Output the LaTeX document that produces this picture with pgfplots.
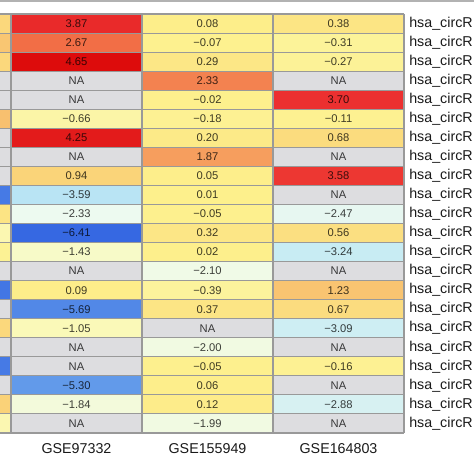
\documentclass[border=0pt]{standalone}
\usepackage{pgfplots}
\pgfplotsset{compat=1.18}
\usepackage{fontspec}
\setmainfont{Liberation Sans}

% Heatmap values: rows 0..-21 top to bottom, columns 0..3 (column 0 only partly shown).
% Missing values (NA) carry meta 5.5, which the colormap paints grey.
\pgfplotstableread{
x y z
0 0 0.8
1 0 3.87
2 0 0.08
3 0 0.38
0 -1 1.2
1 -1 2.67
2 -1 -0.07
3 -1 -0.31
0 -2 0.8
1 -2 4.65
2 -2 0.29
3 -2 -0.27
0 -3 5.5
1 -3 5.5
2 -3 2.33
3 -3 5.5
0 -4 5.5
1 -4 5.5
2 -4 -0.02
3 -4 3.70
0 -5 1.3
1 -5 -0.66
2 -5 -0.18
3 -5 -0.11
0 -6 5.5
1 -6 4.25
2 -6 0.20
3 -6 0.68
0 -7 5.5
1 -7 5.5
2 -7 1.87
3 -7 5.5
0 -8 5.5
1 -8 0.94
2 -8 0.05
3 -8 3.58
0 -9 -6.0
1 -9 -3.59
2 -9 0.01
3 -9 5.5
0 -10 0.4
1 -10 -2.33
2 -10 -0.05
3 -10 -2.47
0 -11 -0.9
1 -11 -6.41
2 -11 0.32
3 -11 0.56
0 -12 -0.2
1 -12 -1.43
2 -12 0.02
3 -12 -3.24
0 -13 5.5
1 -13 5.5
2 -13 -2.10
3 -13 5.5
0 -14 -6.1
1 -14 0.09
2 -14 -0.39
3 -14 1.23
0 -15 5.5
1 -15 -5.69
2 -15 0.37
3 -15 0.67
0 -16 0.8
1 -16 -1.05
2 -16 5.5
3 -16 -3.09
0 -17 5.5
1 -17 5.5
2 -17 -2.00
3 -17 5.5
0 -18 -6.0
1 -18 5.5
2 -18 -0.05
3 -18 -0.16
0 -19 5.5
1 -19 -5.30
2 -19 0.06
3 -19 5.5
0 -20 1.0
1 -20 -1.84
2 -20 0.12
3 -20 -2.88
0 -21 -0.9
1 -21 5.5
2 -21 -1.99
3 -21 5.5
}\heatdata

% Printed cell values for the three labelled columns
\pgfplotstableread{
x y lab
1 0 3.87
2 0 0.08
3 0 0.38
1 -1 2.67
2 -1 −0.07
3 -1 −0.31
1 -2 4.65
2 -2 0.29
3 -2 −0.27
1 -3 NA
2 -3 2.33
3 -3 NA
1 -4 NA
2 -4 −0.02
3 -4 3.70
1 -5 −0.66
2 -5 −0.18
3 -5 −0.11
1 -6 4.25
2 -6 0.20
3 -6 0.68
1 -7 NA
2 -7 1.87
3 -7 NA
1 -8 0.94
2 -8 0.05
3 -8 3.58
1 -9 −3.59
2 -9 0.01
3 -9 NA
1 -10 −2.33
2 -10 −0.05
3 -10 −2.47
1 -11 −6.41
2 -11 0.32
3 -11 0.56
1 -12 −1.43
2 -12 0.02
3 -12 −3.24
1 -13 NA
2 -13 −2.10
3 -13 NA
1 -14 0.09
2 -14 −0.39
3 -14 1.23
1 -15 −5.69
2 -15 0.37
3 -15 0.67
1 -16 −1.05
2 -16 NA
3 -16 −3.09
1 -17 NA
2 -17 −2.00
3 -17 NA
1 -18 NA
2 -18 −0.05
3 -18 −0.16
1 -19 −5.30
2 -19 0.06
3 -19 NA
1 -20 −1.84
2 -20 0.12
3 -20 −2.88
1 -21 NA
2 -21 −1.99
3 -21 NA
}\celllabels

\begin{document}
\begin{tikzpicture}
\useasboundingbox (0pt,0pt) rectangle (355.5pt,355.5pt);
\clip (0pt,0pt) rectangle (355.5pt,355.5pt);
\fill[black!30] (0pt,353.8pt) rectangle (355.5pt,355.5pt);
\begin{axis}[
  at={(0pt,30.75pt)}, anchor=south west,
  scale only axis, width=303pt, height=314.25pt,
  xmin=0.416, xmax=3.5, ymin=-21.5, ymax=0.5,
  enlargelimits=false,
  axis line style={draw=none},
  major tick length=0pt, minor tick length=0pt,
  xtick={1,2,3}, xticklabels={GSE97332,GSE155949,GSE164803},
  ytick={-21,...,0}, yticklabel={hsa\_circR}, yticklabel pos=right,
  minor xtick={0.5,1.5,2.5,3.5},
  minor ytick={-21.5,-20.5,...,0.5},
  xminorgrids=true, yminorgrids=true,
  major grid style={draw=none},
  minor grid style={black!40, line width=0.8pt},
  axis on top,
  colormap={heat}{
    rgb255(0cm)=(50,100,225)
    rgb255(2cm)=(130,190,240)
    rgb255(3cm)=(190,232,244)
    rgb255(4.2cm)=(238,250,240)
    rgb255(5.3cm)=(250,250,190)
    rgb255(6.5cm)=(253,240,140)
    rgb255(7.5cm)=(250,210,120)
    rgb255(8.5cm)=(245,150,90)
    rgb255(9.5cm)=(240,90,60)
    rgb255(10.2cm)=(236,48,48)
    rgb255(11.2cm)=(220,10,10)
    rgb255(11.3cm)=(221,221,224)
    rgb255(12.5cm)=(221,221,224)
  },
  point meta min=-6.5, point meta max=6,
  tick label style={font=\fontsize{10.7}{12}\selectfont, text=black!90},
  xticklabel style={anchor=base, yshift=-15.4pt},
  yticklabel style={anchor=west, inner sep=0pt, xshift=3.75pt},
]
\addplot[matrix plot*, mesh/cols=4, point meta=explicit]
  table[x=x, y=y, meta=z] {\heatdata};
\addplot[draw=none, mark=none, nodes near coords, point meta=explicit symbolic,
  nodes near coords style={anchor=center, inner sep=0pt,
    font=\fontsize{8.4}{10}\selectfont, text=black, text opacity=0.75}]
  table[x=x, y=y, meta=lab] {\celllabels};
\end{axis}
\end{tikzpicture}
\end{document}
